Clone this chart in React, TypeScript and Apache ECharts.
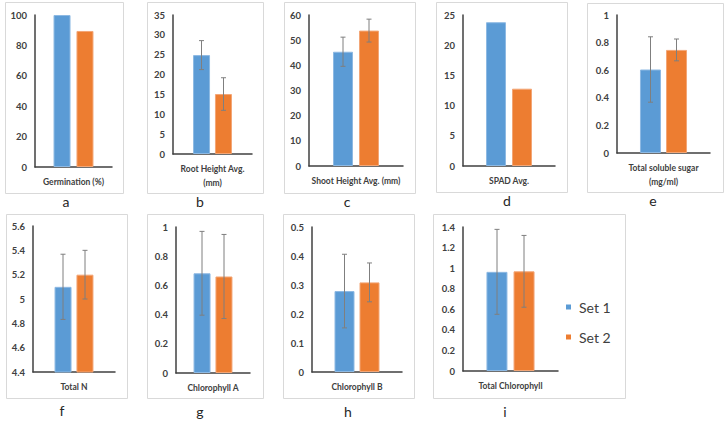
import React, { useEffect, useRef } from "react";
import * as echarts from "echarts";

// Measured traits, one small chart per trait
const categories = [
  "Germination (%)",
  "Root Height Avg.\n(mm)",
  "Shoot Height Avg. (mm)",
  "SPAD Avg.",
  "Total soluble sugar\n(mg/ml)",
  "Total N",
  "Chlorophyll A",
  "Chlorophyll B",
  "Total Chlorophyll",
];
const panelLetters = ["a", "b", "c", "d", "e", "f", "g", "h", "i"];
const seriesNames = ["Set 1", "Set 2"];

const set1Values = [100, 24.9, 45.4, 23.8, 0.605, 5.1, 0.683, 0.279, 0.964];
const set2Values = [89.5, 15.1, 53.8, 12.8, 0.747, 5.2, 0.661, 0.309, 0.969];
const set1Errors = [null, 3.65, 5.8, null, 0.237, 0.268, 0.287, 0.127, 0.413];
const set2Errors = [null, 4.1, 4.55, null, 0.079, 0.2, 0.288, 0.067, 0.349];

const axisMin = [0, 0, 0, 0, 0, 4.4, 0, 0, 0];
const axisMax = [100, 35, 60, 25, 1, 5.6, 1, 0.5, 1.4];
const axisInterval = [20, 5, 10, 5, 0.2, 0.2, 0.2, 0.1, 0.2];

const FONT = "Lato, 'Open Sans', sans-serif";
const BLUE = "#5B9BD5";
const ORANGE = "#ED7D31";
const BLUE_EDGE = "#8db9e3";
const ORANGE_EDGE = "#f3a676";
const AXIS = "#404040";

// Frame, plot area, bar sizing and caption position of each small chart (px)
const panels = [
  { box: [5, 2, 118, 191], grid: [35, 15, 77, 152], barWidth: 17, gap: 6, letter: [66, 201] },
  { box: [147, 2, 116, 191], grid: [173, 15, 79, 139], barWidth: 17, gap: 5, letter: [200, 201] },
  { box: [284, 2, 131, 191], grid: [309, 15, 94, 151], barWidth: 20, gap: 6, letter: [347, 201] },
  { box: [436, 2, 131, 190], grid: [463, 15, 92, 151], barWidth: 20, gap: 6, letter: [507, 200] },
  { box: [587, 3, 136, 189], grid: [617, 15, 93, 138], barWidth: 21, gap: 5, letter: [653, 200] },
  { box: [6, 214, 121, 184], grid: [33, 226, 82, 146], barWidth: 17, gap: 5, letter: [62, 410] },
  { box: [147, 214, 116, 184], grid: [176, 227, 74, 146], barWidth: 17, gap: 5, letter: [200, 411] },
  { box: [283, 214, 131, 184], grid: [312, 227, 90, 145], barWidth: 20, gap: 5, letter: [348, 411] },
  { box: [433, 214, 192, 184], grid: [463, 227, 95, 144], barWidth: 21, gap: 6, letter: [505, 411] },
];

export default function App() {
  const ref = useRef<HTMLDivElement>(null);

  useEffect(() => {
    const chart = echarts.init(ref.current!, null, { renderer: "svg" });

    const grid = panels.map((p) => ({
      left: p.grid[0],
      top: p.grid[1],
      width: p.grid[2],
      height: p.grid[3],
      containLabel: false,
    }));

    const xAxis = panels.map((_, i) => ({
      type: "category",
      gridIndex: i,
      data: [categories[i]],
      axisLine: { show: true, lineStyle: { color: AXIS, width: 1.5 } },
      axisTick: { show: false },
      axisLabel: {
        interval: 0,
        margin: 8,
        fontSize: 8.5,
        fontWeight: "bold",
        lineHeight: 14,
        color: AXIS,
        fontFamily: FONT,
      },
    }));

    const yAxis = panels.map((_, i) => ({
      type: "value",
      gridIndex: i,
      min: axisMin[i],
      max: axisMax[i],
      interval: axisInterval[i],
      axisLine: { show: true, lineStyle: { color: AXIS, width: 1.5 } },
      axisTick: { show: false },
      splitLine: { show: false },
      axisLabel: {
        margin: 8,
        fontSize: 9.5,
        fontWeight: "bold",
        color: AXIS,
        fontFamily: FONT,
      },
    }));

    const series: any[] = [];
    panels.forEach((p, i) => {
      const gapPct = `${Math.round((p.gap / p.barWidth) * 100)}%`;
      [set1Values, set2Values].forEach((vals, s) => {
        series.push({
          type: "bar",
          name: seriesNames[s],
          xAxisIndex: i,
          yAxisIndex: i,
          data: [vals[i]],
          barWidth: p.barWidth,
          barGap: gapPct,
          clip: true,
          itemStyle: {
            color: s === 0 ? BLUE : ORANGE,
            borderColor: s === 0 ? BLUE_EDGE : ORANGE_EDGE,
            borderWidth: 1,
          },
          silent: true,
        });
      });

      const errData: number[][] = [];
      if (set1Errors[i] != null) errData.push([0, set1Values[i], set1Errors[i] as number, -1]);
      if (set2Errors[i] != null) errData.push([0, set2Values[i], set2Errors[i] as number, 1]);
      if (errData.length) {
        const half = (p.barWidth + p.gap) / 2;
        series.push({
          type: "custom",
          xAxisIndex: i,
          yAxisIndex: i,
          z: 5,
          silent: true,
          encode: { x: 0, y: 1 },
          data: errData,
          renderItem: (_params: any, api: any) => {
            const v = api.value(1);
            const e = api.value(2);
            const side = api.value(3);
            const hi = api.coord([0, v + e]);
            const lo = api.coord([0, v - e]);
            const x = hi[0] + side * half;
            const cap = 2.5;
            const style = { stroke: "#7f7f7f", lineWidth: 1 };
            return {
              type: "group",
              children: [
                { type: "line", shape: { x1: x, y1: hi[1], x2: x, y2: lo[1] }, style },
                { type: "line", shape: { x1: x - cap, y1: hi[1], x2: x + cap, y2: hi[1] }, style },
                { type: "line", shape: { x1: x - cap, y1: lo[1], x2: x + cap, y2: lo[1] }, style },
              ],
            };
          },
        });
      }
    });

    const graphic: any[] = [];
    panels.forEach((p, i) => {
      graphic.push({
        type: "rect",
        shape: { x: p.box[0] + 0.5, y: p.box[1] + 0.5, width: p.box[2], height: p.box[3] },
        style: { fill: "none", stroke: "#d9d9d9", lineWidth: 1 },
        z: -1,
        silent: true,
      });
      graphic.push({
        type: "text",
        x: p.letter[0],
        y: p.letter[1],
        style: {
          text: panelLetters[i],
          fontSize: 14,
          fontFamily: FONT,
          fill: "#262626",
          textAlign: "center",
          textVerticalAlign: "middle",
        },
        silent: true,
      });
    });

    chart.setOption({
      animation: false,
      backgroundColor: "#ffffff",
      grid,
      xAxis,
      yAxis,
      series,
      graphic,
      legend: {
        data: seriesNames,
        orient: "vertical",
        left: 561,
        top: 294,
        icon: "rect",
        itemWidth: 5,
        itemHeight: 5,
        itemGap: 14,
        selectedMode: false,
        itemStyle: { borderWidth: 0 },
        textStyle: {
          fontSize: 14,
          lineHeight: 16,
          color: AXIS,
          fontFamily: FONT,
          padding: [0, 0, 0, 3],
        },
      },
    });

    return () => chart.dispose();
  }, []);

  return (
    <div
      ref={ref}
      style={{ position: "absolute", left: 0, top: 0, width: 725, height: 421 }}
    />
  );
}
